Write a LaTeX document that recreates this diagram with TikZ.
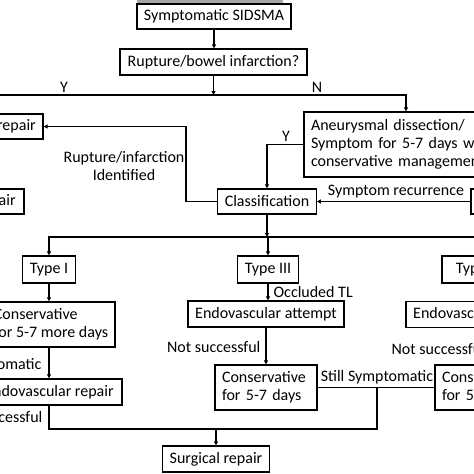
\documentclass[tikz,border=0pt]{standalone}
\usepackage{fontspec}
\setmainfont{Carlito}
\usetikzlibrary{arrows.meta}

\tikzset{
  box/.style={draw, line width=1.3pt, inner xsep=7pt, inner ysep=0pt, minimum height=25pt},
  boxl/.style={box, align=left},
  lbl/.style={inner sep=0pt},
  arr/.style={-{Triangle[length=4pt,width=4pt]}},
}

\begin{document}
\begin{tikzpicture}[x=1pt,y=1pt,yscale=-1,line width=1.3pt,font=\fontsize{16}{18}\selectfont]
\useasboundingbox (0,0) rectangle (474,474);
\clip (0,0) rectangle (474,474);
\fill[gray!70] (137,0) rectangle (283,3);

% boxes
\node[box, minimum width=154pt] (sym) at (214,16.5) {Symptomatic SIDSMA};
\node[box, minimum width=187pt, minimum height=26pt] (rup) at (213.5,62) {Rupture/bowel infarction?};
\node[boxl, text width=190pt, minimum height=65pt] (aneu) at (406,144.5) {Aneurysmal dissection/\\Symptom for 5-7 days with\\conservative management};
\node[box, minimum width=98pt] (cls) at (267,201.5) {Classification};
\node[box, minimum width=100pt] (recur) at (521,201.5) {};
\node[box, minimum width=107pt] (surgL) at (-10.5,126.5) {Surgical repair};
\node[box, minimum width=145pt] (repL) at (-48.5,201.5) {Endovascular repair};
\node[box, minimum width=52pt, minimum height=27pt] (t1) at (49,269.5) {Type I};
\node[box, minimum width=60pt, minimum height=27pt] (t3) at (268,269.5) {Type III};
\node[box, minimum width=70pt, minimum height=27pt] (t2) at (477,269.5) {Type II};
\node[boxl, minimum height=45pt] (consI) at (51,324.5) {Conservative\\for 5-7 more days};
\node[box, minimum width=145pt, minimum height=26pt] (endoI) at (49.5,392) {Endovascular repair};
\node[box, minimum width=156pt, minimum height=26pt] (endoA) at (266,314) {Endovascular attempt};
\node[box, minimum width=156pt, minimum height=26pt] (endoR) at (484,314.5) {Endovascular attempt};
\node[boxl, text width=88pt, minimum height=45pt] (cons3) at (266,387.5) {Conservative\\for 5-7 days};
\node[boxl, text width=88pt, minimum height=45pt] (cons2) at (486,387.5) {Conservative\\for 5-7 days};
\node[box, minimum width=107pt, minimum height=26pt] (surg) at (216,459) {Surgical repair};

% labels
\node[lbl] (yes1) at (64,87) {Y};
\node[lbl] (no1) at (317,87) {N};
\node[lbl] (yes2) at (286,136) {Y};
\node[lbl, align=center] (rupid) at (124,166.5) {Rupture/infarction\\Identified};
\node[lbl] (recurlbl) at (396,192) {Symptom recurrence};
\node[lbl, anchor=west] (occl) at (273,292) {Occluded TL};
\node[lbl, anchor=east] (sympI) at (42,365) {Symptomatic};
\node[lbl, anchor=east] (nsI) at (43,417) {Not successful};
\node[lbl, anchor=east] (ns3) at (261,347) {Not successful};
\node[lbl, anchor=west] (ns2) at (391,349) {Not successful};
\node[lbl] (still) at (377,377) {Still Symptomatic};

% connectors
\coordinate (yn) at (214,95);
\coordinate (typ) at (267,237);
\coordinate (mg) at (377,429);
\draw[arr] (sym.south) -- (sym.south |- rup.north);
\draw[arr] (rup.south) -- (rup.south |- yn);
\draw[arr] (yn) -| (surgL.north);
\draw[arr] (yn) -| (aneu.north);
\draw[arr] (aneu.west) -| (cls.north);
\draw[arr] (cls.west) -- ++(-31,0) |- (surgL.east);
\draw[arr] (recur.west) -- (cls.east);
\draw[arr] (cls.south) -- (typ);
\draw[arr] (typ) -| (t1.north);
\draw[arr] (typ) -| (t3.north);
\draw[arr] (typ) -| (t2.north);
\draw[arr] (t1.south) -- (t1.south |- consI.north);
\draw[arr] (t1 |- consI.south) -- (t1 |- endoI.north);
\draw[arr] (t3.south) -- (t3.south |- endoA.north);
\draw[arr] (endoA.south) -- (endoA.south |- cons3.north);
\draw[arr] (t2.south) -- (t2.south |- endoR.north);
\draw[arr] (endoR.south) -- (endoR.south |- cons2.north);
\draw (cons3.east) -- (cons2.west);
\draw (t1 |- endoI.south) |- (mg) -- (mg |- cons3.east);
\draw[arr] (surg.north |- mg) -- (surg.north);
\end{tikzpicture}
\end{document}
